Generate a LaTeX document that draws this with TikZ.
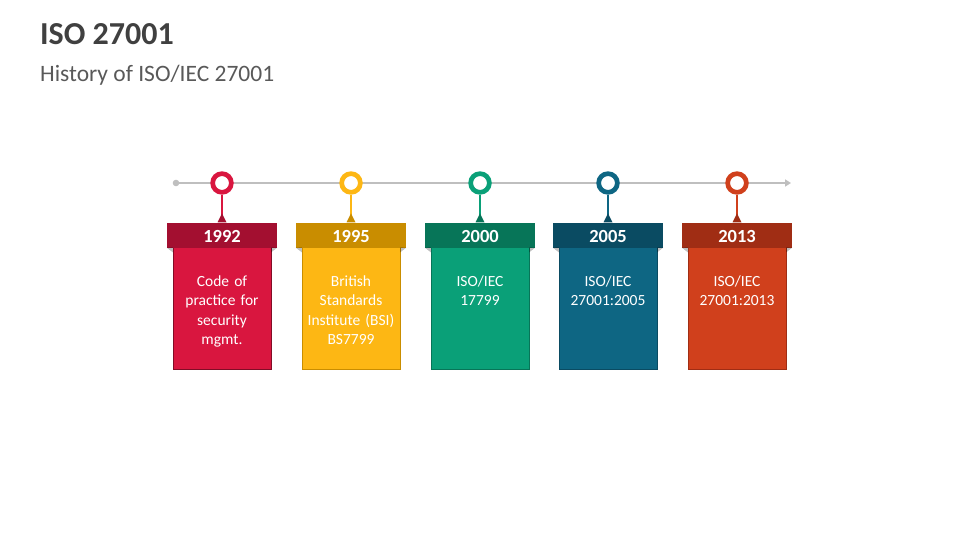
\documentclass[tikz,border=0pt]{standalone}
\usepackage{fontspec}
\setmainfont{Carlito}
\usepackage{xcolor}
\usetikzlibrary{arrows.meta}

\definecolor{redbody}{HTML}{D9163F}
\definecolor{redhead}{HTML}{A30F30}
\definecolor{yelbody}{HTML}{FDB714}
\definecolor{yelhead}{HTML}{C98D00}
\definecolor{grnbody}{HTML}{0AA078}
\definecolor{grnhead}{HTML}{077558}
\definecolor{bluebody}{HTML}{0E6683}
\definecolor{bluehead}{HTML}{0A4B62}
\definecolor{orgbody}{HTML}{D0401C}
\definecolor{orghead}{HTML}{A02D14}
\definecolor{titlegray}{HTML}{404040}
\definecolor{subgray}{HTML}{595959}
\definecolor{linegray}{HTML}{BFBFBF}

\begin{document}
\begin{tikzpicture}[x=1pt, y=-1pt,
  ring/.style={circle, draw, fill=white, line width=4.7pt, minimum size=18.7pt, inner sep=0pt},
  yearbox/.style={minimum width=110pt, minimum height=25pt, inner sep=0pt, anchor=north,
                  text=white, font=\fontsize{18.5}{21}\selectfont\bfseries,
                  text height=14.4pt, text depth=0pt},
  bodybox/.style={minimum width=98pt, anchor=north, text width=96pt, align=center, inner xsep=1pt,
                  inner ysep=24.7pt, text height=14pt, text depth=58.6pt,
                  text=white, font=\fontsize{15.5}{19.4}\selectfont},
  stem/.style={line width=1.4pt},
  fold/.style={fill=black, fill opacity=0.25}
]
  \useasboundingbox (0,0) rectangle (960,540);

  % Titles
  \node[anchor=base west, inner sep=0pt, text=titlegray, font=\fontsize{32}{36}\selectfont\bfseries]
    (title) at (40,45) {ISO 27001};
  \node[anchor=base west, inner sep=0pt, text=subgray, font=\fontsize{23.5}{26}\selectfont]
    (subtitle) at (40,81.5) {History of ISO/IEC 27001};

  % Timeline
  \coordinate (tstart) at (176,183);
  \coordinate (tend) at (791,183);
  \draw[linegray, line width=2pt, -{Triangle[length=6pt, width=7pt]}] (tstart) -- (tend);
  \fill[linegray] (tstart) circle (3.3pt);

  % Rings on the timeline
  \node[ring, draw=redbody] (ring1) at (222,183) {};
  \node[ring, draw=yelbody] (ring2) at (351,183) {};
  \node[ring, draw=grnbody] (ring3) at (480,183) {};
  \node[ring, draw=bluebody] (ring4) at (608,183) {};
  \node[ring, draw=orgbody] (ring5) at (737,183) {};

  % Body boxes
  \node[bodybox, fill=redbody, draw=redhead!80!black, line width=0.4pt] (body1) at (222,247.3)
    {Code of\\practice for\\security\\mgmt.};
  \node[bodybox, fill=yelbody, draw=yelhead, line width=0.4pt] (body2) at (351,247.3)
    {British\\Standards\\Institute (BSI)\\BS7799};
  \node[bodybox, fill=grnbody, draw=grnhead, line width=0.4pt] (body3) at (480,247.3)
    {ISO/IEC\\17799};
  \node[bodybox, fill=bluebody, draw=bluehead, line width=0.4pt] (body4) at (608,247.3)
    {ISO/IEC\\27001:2005};
  \node[bodybox, fill=orgbody, draw=orghead, line width=0.4pt] (body5) at (737,247.3)
    {ISO/IEC\\27001:2013};

  % Year headers
  \node[yearbox, fill=redhead] (hd1) at (222,222.3) {1992};
  \node[yearbox, fill=yelhead] (hd2) at (351,222.3) {1995};
  \node[yearbox, fill=grnhead] (hd3) at (480,222.3) {2000};
  \node[yearbox, fill=bluehead] (hd4) at (608,222.3) {2005};
  \node[yearbox, fill=orghead] (hd5) at (737,222.3) {2013};

  % Shadow folds under header ends
  \fill[fold] (hd1.south west) -- (body1.north west) -- ([yshift=-5pt]body1.north west) -- cycle;
  \fill[fold] (hd1.south east) -- (body1.north east) -- ([yshift=-5pt]body1.north east) -- cycle;
  \fill[fold] (hd2.south west) -- (body2.north west) -- ([yshift=-5pt]body2.north west) -- cycle;
  \fill[fold] (hd2.south east) -- (body2.north east) -- ([yshift=-5pt]body2.north east) -- cycle;
  \fill[fold] (hd3.south west) -- (body3.north west) -- ([yshift=-5pt]body3.north west) -- cycle;
  \fill[fold] (hd3.south east) -- (body3.north east) -- ([yshift=-5pt]body3.north east) -- cycle;
  \fill[fold] (hd4.south west) -- (body4.north west) -- ([yshift=-5pt]body4.north west) -- cycle;
  \fill[fold] (hd4.south east) -- (body4.north east) -- ([yshift=-5pt]body4.north east) -- cycle;
  \fill[fold] (hd5.south west) -- (body5.north west) -- ([yshift=-5pt]body5.north west) -- cycle;
  \fill[fold] (hd5.south east) -- (body5.north east) -- ([yshift=-5pt]body5.north east) -- cycle;

  % Stems from rings to headers
  \draw[stem, redbody] (ring1) -- (hd1);
  \draw[stem, yelbody] (ring2) -- (hd2);
  \draw[stem, grnbody] (ring3) -- (hd3);
  \draw[stem, bluebody] (ring4) -- (hd4);
  \draw[stem, orgbody] (ring5) -- (hd5);

  % Pointers on top of headers
  \fill[redhead] ([xshift=-4.5pt]hd1.north) -- ([yshift=9pt]hd1.north) -- ([xshift=4.5pt]hd1.north) -- cycle;
  \fill[yelhead] ([xshift=-4.5pt]hd2.north) -- ([yshift=9pt]hd2.north) -- ([xshift=4.5pt]hd2.north) -- cycle;
  \fill[grnhead] ([xshift=-4.5pt]hd3.north) -- ([yshift=9pt]hd3.north) -- ([xshift=4.5pt]hd3.north) -- cycle;
  \fill[bluehead] ([xshift=-4.5pt]hd4.north) -- ([yshift=9pt]hd4.north) -- ([xshift=4.5pt]hd4.north) -- cycle;
  \fill[orghead] ([xshift=-4.5pt]hd5.north) -- ([yshift=9pt]hd5.north) -- ([xshift=4.5pt]hd5.north) -- cycle;
\end{tikzpicture}
\end{document}
